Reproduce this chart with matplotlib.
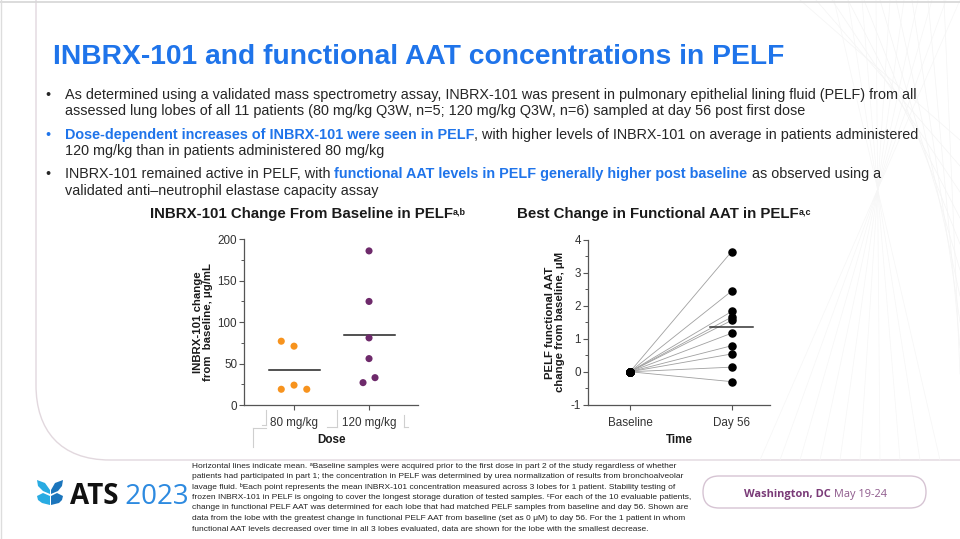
import matplotlib
matplotlib.use("Agg")
import matplotlib.pyplot as plt
from matplotlib.path import Path
from matplotlib.patches import PathPatch, FancyBboxPatch, Polygon
from matplotlib.ticker import MultipleLocator
import numpy as np

plt.rcParams["axes.unicode_minus"] = False

# ---------------- data ----------------
dose_labels = ["80 mg/kg", "120 mg/kg"]
dose80_values = [77, 71, 19, 24, 19]
dose80_offsets = [-0.17, 0.0, -0.17, 0.0, 0.17]
dose120_values = [186, 125, 81, 56, 27, 33]
dose120_offsets = [0.0, 0.0, 0.0, 0.0, -0.08, 0.08]
dose_colors = ["#F7931E", "#6E2A6B"]

time_labels = ["Baseline", "Day 56"]
aat_baseline = [0, 0, 0, 0, 0, 0, 0, 0, 0, 0]
aat_day56 = [3.65, 2.45, 1.83, 1.66, 1.56, 1.17, 0.79, 0.54, 0.14, -0.30]

W, H = 960, 539
fig = plt.figure(figsize=(W / 100, H / 100), dpi=100)
fig.patch.set_facecolor("white")
renderer = fig.canvas.get_renderer()

FONT = ["Liberation Sans", "DejaVu Sans"]
BLUE = "#1f74ea"
TXT = "#262626"


def fx(x):
    return x / W


def fy(y):
    return 1 - y / H


def rich(x, y, parts, size, va="baseline", family=FONT):
    for text, color, weight, dy, sz in parts:
        t = fig.text(fx(x), fy(y + dy), text, fontsize=sz or size, color=color,
                     weight=weight, family=family, va=va, ha="left")
        bb = t.get_window_extent(renderer)
        x = bb.x1


# ---------------- decorative background ----------------
bg = fig.add_axes([0, 0, 1, 1], zorder=-10)
bg.set_xlim(0, W)
bg.set_ylim(H, 0)
bg.axis("off")
for k in range(10):
    bg.plot([800 + k * 16, 960], [0, 140 + k * 26], color="#f4f4f4", lw=0.5)
    bg.plot([960 - k * 14, 760 + k * 20], [0, 460], color="#f6f6f6", lw=0.5)
bg.plot([0, W], [1.5, 1.5], color="#d6d6d6", lw=1.2)
bg.plot([0.8, 0.8], [0, H], color="#dddddd", lw=1)
verts = [(36, 0), (36, 385), (36, 430), (60, 460), (110, 460), (W, 460)]
codes = [Path.MOVETO, Path.LINETO, Path.CURVE4, Path.CURVE4, Path.CURVE4, Path.LINETO]
bg.add_patch(PathPatch(Path(verts, codes), fill=False, edgecolor="#e2d8de", lw=1))
bg.add_patch(FancyBboxPatch((703, 476), 223, 32, boxstyle="round,pad=0,rounding_size=16",
                            fc="white", ec="#d6c4d3", lw=1))

# ---------------- slide title and bullets ----------------
fig.text(fx(53), fy(64), "INBRX-101 and functional AAT concentrations in PELF",
         fontsize=20.3, weight="bold", color=BLUE, family=FONT, va="baseline")

BS = 10.35
bullets_y = [99, 139, 178]
bullet_colors = [TXT, BLUE, TXT]
for by, bc in zip(bullets_y, bullet_colors):
    fig.text(fx(45), fy(by), "•", fontsize=BS, color=bc, family=FONT, va="baseline")

rich(65, 99, [("As determined using a validated mass spectrometry assay, INBRX-101 was present in pulmonary epithelial lining fluid (PELF) from all", TXT, "normal", 0, None)], BS)
rich(65, 115.5, [("assessed lung lobes of all 11 patients (80 mg/kg Q3W, n=5; 120 mg/kg Q3W, n=6) sampled at day 56 post first dose", TXT, "normal", 0, None)], BS)
rich(65, 139, [("Dose-dependent increases of INBRX-101 were seen in PELF", BLUE, "bold", 0, None),
               (", with higher levels of INBRX-101 on average in patients administered", TXT, "normal", 0, None)], BS)
rich(65, 155.5, [("120 mg/kg than in patients administered 80 mg/kg", TXT, "normal", 0, None)], BS)
rich(65, 178, [("INBRX-101 remained active in PELF, with", TXT, "normal", 0, None),
               (" functional AAT levels in PELF generally higher post baseline", BLUE, "bold", 0, None),
               (" as observed using a", TXT, "normal", 0, None)], BS)
rich(65, 194.5, [("validated anti\u2013neutrophil elastase capacity assay", TXT, "normal", 0, None)], BS)

# ---------------- chart titles ----------------
rich(150, 218, [("INBRX-101 Change From Baseline in PELF", "#1a1a1a", "bold", 0, None),
                ("a,b", "#1a1a1a", "bold", -4, 6.5)], 10.8)
rich(517, 218, [("Best Change in Functional AAT in PELF", "#1a1a1a", "bold", 0, None),
                ("a,c", "#1a1a1a", "bold", -4, 6.5)], 10.8)

AX_C = "#555555"
TICK_C = "#333333"


def style_axes(ax):
    for s in ["top", "right"]:
        ax.spines[s].set_visible(False)
    for s in ["left", "bottom"]:
        ax.spines[s].set_color(AX_C)
        ax.spines[s].set_linewidth(0.9)
    ax.tick_params(axis="both", colors=AX_C, labelcolor=TICK_C, labelsize=8.4,
                   length=3.5, width=0.8, pad=1.5)
    ax.tick_params(axis="y", which="minor", length=2, width=0.7, colors=AX_C)
    for lab in ax.get_xticklabels() + ax.get_yticklabels():
        lab.set_family(FONT)


# ---------------- left chart ----------------
axL = fig.add_axes([fx(244), fy(405), (418 - 244) / W, (405 - 239.3) / H])
axL.set_ylim(0, 200)
axL.set_xlim(-0.667, 1.653)
axL.scatter(np.zeros(len(dose80_values)) + np.array(dose80_offsets), dose80_values,
            s=26, color=dose_colors[0], edgecolors="none", zorder=3, clip_on=False)
axL.scatter(np.ones(len(dose120_values)) + np.array(dose120_offsets), dose120_values,
            s=26, color=dose_colors[1], edgecolors="none", zorder=3, clip_on=False)
for i, vals in enumerate([dose80_values, dose120_values]):
    m = np.mean(vals)
    axL.plot([i - 0.34, i + 0.34], [m, m], color="#222222", lw=1.1, zorder=2)
axL.set_xticks([0, 1])
axL.set_xticklabels(dose_labels)
axL.set_yticks([0, 50, 100, 150, 200])
axL.yaxis.set_minor_locator(MultipleLocator(25))
style_axes(axL)
axL.tick_params(axis="x", pad=5)
axL.set_ylabel("INBRX-101 change\nfrom  baseline, \u03bcg/mL", fontsize=8.2, weight="bold",
               family=FONT, color="#1a1a1a", labelpad=3, linespacing=1.05)
axL.set_xlabel("Dose", fontsize=8.4, weight="bold", family=FONT, color="#1a1a1a", labelpad=4)

gl = "#cfcfcf"
for (x0, y0, x1, y1) in [(265.7, 410, 265.7, 425), (261.5, 425, 265.7, 425),
                         (337.3, 410, 337.3, 427), (326.7, 427, 337.3, 427),
                         (404, 415, 404, 427), (404, 427, 408, 427),
                         (252.7, 428, 252.7, 447), (252.7, 428, 265.7, 428)]:
    bg.plot([x0, x1], [y0, y1], color=gl, lw=0.8)

# ---------------- right chart ----------------
axR = fig.add_axes([fx(588), fy(404.7), (770 - 588) / W, (404.7 - 240) / H])
axR.set_ylim(-1, 4)
axR.set_xlim(-0.413, 1.377)
for b, d in zip(aat_baseline, aat_day56):
    axR.plot([0, 1], [b, d], color="#a0a0a0", lw=0.6, zorder=1)
axR.scatter(np.zeros(len(aat_baseline)), aat_baseline, s=26, color="black", zorder=3)
axR.scatter(np.ones(len(aat_day56)), aat_day56, s=26, color="black", zorder=3)
m = np.mean(aat_day56)
axR.plot([0.79, 1.21], [m, m], color="#333333", lw=1.1, zorder=2)
axR.set_xticks([0, 1])
axR.set_xticklabels(time_labels)
axR.set_yticks([-1, 0, 1, 2, 3, 4])
axR.yaxis.set_minor_locator(MultipleLocator(0.5))
style_axes(axR)
axR.tick_params(axis="x", pad=5)
axR.set_ylabel("PELF functional AAT\nchange from baseline, \u03bcM", fontsize=8.2, weight="bold",
               family=FONT, color="#1a1a1a", labelpad=4, linespacing=1.05)
axR.set_xlabel("Time", fontsize=8.4, weight="bold", family=FONT, color="#1a1a1a", labelpad=4)

# ---------------- footer ----------------
foot = [
    "Horizontal lines indicate mean. \u1d43Baseline samples were acquired prior to the first dose in part 2 of the study regardless of whether",
    "patients had participated in part 1; the concentration in PELF was determined by urea normalization of results from bronchoalveolar",
    "lavage fluid. \u1d47Each point represents the mean INBRX-101 concentration measured across 3 lobes for 1 patient. Stability testing of",
    "frozen INBRX-101 in PELF is ongoing to cover the longest storage duration of tested samples. \u1d9cFor each of the 10 evaluable patients,",
    "change in functional PELF AAT was determined for each lobe that had matched PELF samples from baseline and day 56. Shown are",
    "data from the lobe with the greatest change in functional PELF AAT from baseline (set as 0 \u03bcM) to day 56. For the 1 patient in whom",
    "functional AAT levels decreased over time in all 3 lobes evaluated, data are shown for the lobe with the smallest decrease.",
]
for i, line in enumerate(foot):
    fig.text(fx(192), fy(468 + i * 10.3), line, fontsize=6.0, color="#222222",
             family=FONT, va="baseline")

lb, db = "#29ABE2", "#1B75BC"
icon = [
    ([(37, 480), (45, 483), (50, 490), (50, 494), (43, 491), (38, 486)], lb),
    ([(37, 496), (43, 493), (50, 496), (50, 505), (42, 503), (38, 500)], lb),
    ([(63, 480), (55, 483), (51, 490), (51, 494), (58, 491), (62, 486)], db),
    ([(63, 496), (57, 493), (51, 496), (51, 505), (59, 503), (62, 500)], db),
]
for pts, c in icon:
    bg.add_patch(Polygon(pts, closed=True, fc=c, ec="none"))
rich(70, 504, [("ATS", "#111111", "bold", 0, None), (" 2023", "#2D8AE0", "normal", 0, None)],
     20, family=["Open Sans", "DejaVu Sans"])

rich(744, 496.5, [("Washington, DC", "#7A3B78", "bold", 0, None), (" May 19-24", "#8E5A8C", "normal", 0, None)],
     7.9, family=["Open Sans", "DejaVu Sans"])

fig.savefig("out.png", dpi=100, facecolor="white")
